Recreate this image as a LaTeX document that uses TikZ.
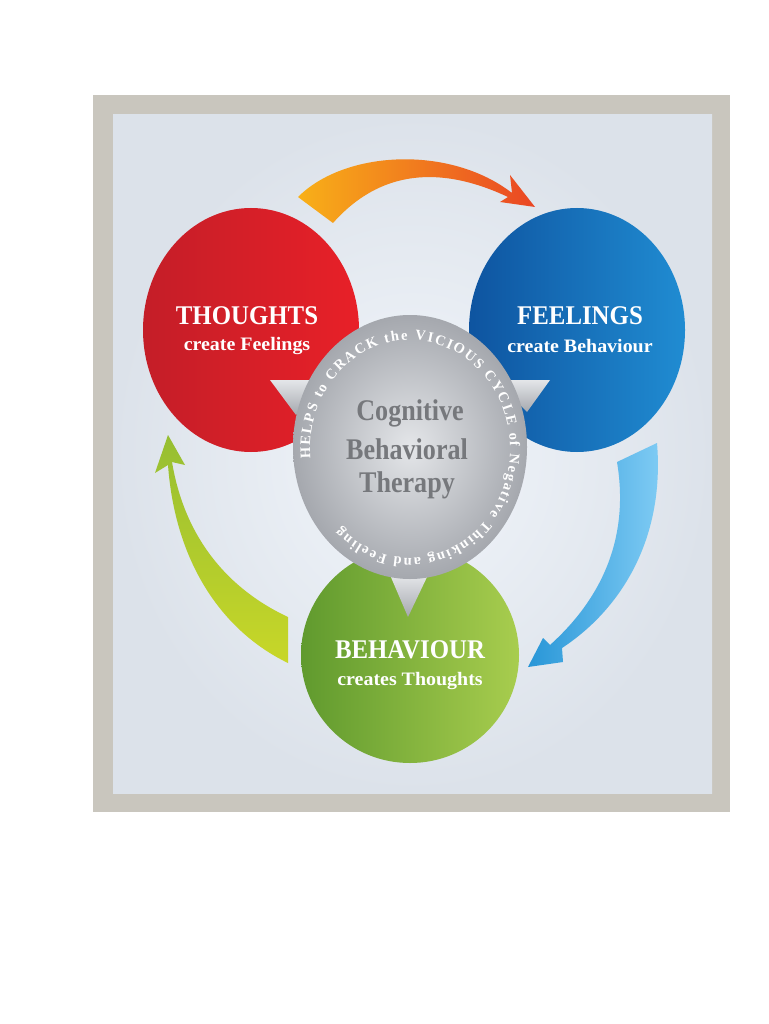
\documentclass[tikz,border=0pt]{standalone}
\usepackage{fontspec}
\setmainfont{Liberation Serif}
\usetikzlibrary{shadings,decorations.text}
\definecolor{frame}{RGB}{201,198,190}
\definecolor{panelin}{RGB}{242,246,251}
\definecolor{panelout}{RGB}{220,226,234}
\definecolor{redA}{RGB}{196,30,40}
\definecolor{redB}{RGB}{232,32,40}
\definecolor{blueA}{RGB}{14,84,160}
\definecolor{blueB}{RGB}{32,140,210}
\definecolor{greenA}{RGB}{96,154,46}
\definecolor{greenB}{RGB}{168,205,78}
\definecolor{grayIn}{RGB}{228,230,233}
\definecolor{grayOut}{RGB}{165,168,174}
\definecolor{cbt}{RGB}{118,120,124}
\definecolor{orA}{RGB}{248,176,24}
\definecolor{orB}{RGB}{234,70,36}
\definecolor{blA}{RGB}{40,150,215}
\definecolor{blB}{RGB}{130,205,245}
\definecolor{grA}{RGB}{150,190,50}
\definecolor{grB}{RGB}{200,215,40}
\tikzset{
  title/.style={text=white,font=\bfseries\fontsize{27}{30}\selectfont,xscale=0.92,inner sep=0},
  sub/.style={text=white,font=\bfseries\fontsize{19}{21}\selectfont,xscale=1.05,inner sep=0},
  cbtt/.style={text=cbt,font=\bfseries\fontsize{30}{33}\selectfont,xscale=0.87,inner sep=0},
  tri/.style={top color=grayIn,bottom color=grayOut}
}
\begin{document}
\begin{tikzpicture}[x=1pt,y=1pt]
\useasboundingbox (0,0) rectangle (768,-1024);
\fill[white] (0,0) rectangle (768,-1024);
\fill[frame] (93,-95) rectangle (730,-812);
\path[inner color=panelin,outer color=panelout] (113,-115) rectangle (712,-793);
% arrows
\path[left color=orA,right color=orB] (298,-197) .. controls (345,-150) and (450,-145) .. (512,-193) -- (510,-175) -- (535,-207) -- (500,-202) -- (508,-197) .. controls (440,-165) and (380,-170) .. (333,-223) -- cycle;
\path[left color=blA,right color=blB] (617,-462) -- (657,-443) .. controls (665,-540) and (620,-610) .. (562,-648) -- (563,-662) -- (528,-667) -- (543,-638) -- (550,-645) .. controls (600,-600) and (630,-540) .. (617,-462) -- cycle;
\path[top color=grA,bottom color=grB] (288,-617) -- (288,-663) .. controls (220,-630) and (175,-560) .. (168,-465) -- (155,-473) -- (168,-435) -- (185,-465) -- (172,-462) .. controls (185,-540) and (230,-590) .. (288,-617) -- cycle;
% circles
\path[left color=redA,right color=redB] (251,-330) ellipse [x radius=108,y radius=122];
\path[left color=blueA,right color=blueB] (577,-330) ellipse [x radius=108,y radius=122];
\path[left color=greenA,right color=greenB] (410,-655) ellipse [x radius=109,y radius=108];
% pointers
\path[tri] (270,-380) -- (325,-380) -- (296,-415) -- cycle;
\path[tri] (550,-380) -- (495,-380) -- (527,-412) -- cycle;
\path[tri] (390,-575) -- (428,-575) -- (408,-617) -- cycle;
% centre
\path[inner color=grayIn,outer color=grayOut] (410,-447) ellipse [x radius=117,y radius=132];
\path[decorate,decoration={text along path,text align={fit to path},text={|\bfseries\fontsize{14.5}{15}\selectfont\color{white}|HELPS to CRACK the VICIOUS CYCLE of Negative Thinking and Feeling}}]
  (410,-449) ++(185:100 and 109) arc[start angle=185,end angle=-134,x radius=100,y radius=109];
% texts
\node[title] (t1) at (247,-316) {THOUGHTS};
\node[sub] (s1) at (247,-346) {create Feelings};
\node[title] (t2) at (580,-316) {FEELINGS};
\node[sub] (s2) at (580,-346) {create Behaviour};
\node[title] (t3) at (410,-650) {BEHAVIOUR};
\node[sub] (s3) at (410,-681) {creates Thoughts};
\node[cbtt] (c1) at (410,-413) {Cognitive};
\node[cbtt] (c2) at (407,-449) {Behavioral};
\node[cbtt] (c3) at (407,-485) {Therapy};
\end{tikzpicture}
\end{document}
